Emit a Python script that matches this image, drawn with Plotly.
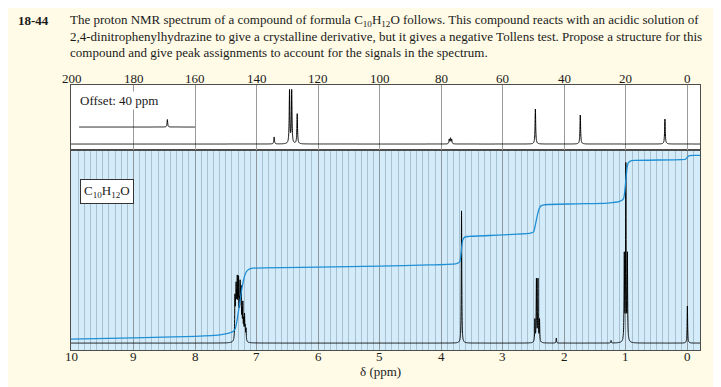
import numpy as np
import plotly.graph_objects as go

# ---------------- data ----------------
# 13C spectrum (top panel), ppm and peak heights (arbitrary units)
c13_shift = [134.3, 129.3, 128.6, 126.8, 77.4, 77.0, 76.6, 49.4, 34.8, 7.3]
c13_height = [7, 53, 53, 30, 4.5, 5.5, 4.5, 35, 29, 25]
# offset inset (carbonyl), true shift and height, offset 40 ppm
c13_offset_shift = [209.0]
c13_offset_height = [7.5]
c13_offset = 40
c13_offset_span = [237.7, 200.0]
c13_offset_level = 17

# 1H spectrum (bottom panel)
h_shift = [7.352, 7.342, 7.333, 7.323, 7.314, 7.303, 7.293, 7.28, 7.268, 7.258, 7.25,
           7.237, 7.224, 7.21, 7.196, 7.185, 7.172,
           3.67,
           2.478, 2.453, 2.428, 2.403,
           2.13, 1.24,
           1.025, 1.0, 0.975,
           0.0]
h_height = [40, 26, 44, 30, 50, 32, 52, 30, 48, 28, 42,
            24, 34, 18, 24, 12, 12,
            132,
            22, 62, 62, 22,
            5, 2.5,
            85, 175, 85,
            37]

# integral trace (ppm, level)
int_ppm = [10.02, 9.0, 8.0, 7.6, 7.45, 7.38, 7.35, 7.32, 7.28, 7.24, 7.20, 7.17, 7.13, 7.06,
           6.0, 5.0, 4.2, 3.75, 3.70, 3.68, 3.665, 3.65, 3.62, 3.55,
           3.0, 2.55, 2.50, 2.47, 2.44, 2.41, 2.38, 2.33,
           1.8, 1.3, 1.1, 1.04, 1.02, 1.00, 0.98, 0.96, 0.92, 0.85,
           0.1, 0.03, 0.0, -0.03, -0.1, -0.205]
int_val = [4.0, 5.3, 6.8, 8.2, 10.0, 11.5, 14, 22, 38, 54, 66, 71, 73.5, 74.8,
           75.8, 76.8, 78, 79.3, 81, 88, 97, 103, 105.8, 106.5,
           108, 109.8, 111, 118, 127, 134, 137, 138.1,
           139, 139.8, 141.5, 144, 150, 163, 175, 180, 182, 182.4,
           183.2, 183.6, 185.5, 187.1, 187.5, 187.5]

h_ticks = list(range(0, 11))
c13_ticks = list(range(0, 201, 20))

# ---------------- line shapes ----------------
def lorentz(x, centers, heights, hw):
    y = np.zeros_like(x)
    for c, h in zip(centers, heights):
        y += h / (1.0 + ((x - c) / hw) ** 2)
    return y

H_RANGE = [10.016, -0.205]
C_RANGE = [200.32, -4.1]

xh = np.arange(H_RANGE[1], H_RANGE[0], 0.001)
yh = lorentz(xh, h_shift, h_height, 0.0045)

xc = np.arange(C_RANGE[1], C_RANGE[0], 0.02)
yc = lorentz(xc, c13_shift, c13_height, 0.12)

xo_true = np.arange(c13_offset_span[1], c13_offset_span[0], 0.02)
yo = c13_offset_level + lorentz(xo_true, c13_offset_shift, c13_offset_height, 0.12)
xo = xo_true - c13_offset

# ---------------- figure ----------------
W, H = 721, 387
ML, MR, MT, MB = 63, 29, 77, 45
PW, PH = W - ML - MR, H - MT - MB
split = (H - MB - 142) / PH

def px(x):
    return (x - ML) / PW

def py(y):
    return (H - MB - y) / PH

SERIF = "Liberation Serif, Times New Roman, serif"
TXT = "#1a1a1a"

fig = go.Figure()
fig.add_trace(go.Scatter(x=xh, y=yh, mode="lines", line=dict(color="black", width=1, simplify=False),
                         xaxis="x", yaxis="y", hoverinfo="skip", showlegend=False))
fig.add_trace(go.Scatter(x=int_ppm, y=int_val, mode="lines",
                         line=dict(color="#1f8fd6", width=1.3, shape="spline", smoothing=0.6),
                         xaxis="x", yaxis="y", hoverinfo="skip", showlegend=False))
fig.add_trace(go.Scatter(x=xc, y=yc, mode="lines", line=dict(color="black", width=1, simplify=False),
                         xaxis="x2", yaxis="y2", hoverinfo="skip", showlegend=False))
fig.add_trace(go.Scatter(x=xo, y=yo, mode="lines", line=dict(color="black", width=1, simplify=False),
                         xaxis="x2", yaxis="y2", hoverinfo="skip", showlegend=False))

border = "#4d4d4d"
fig.update_layout(
    width=W, height=H,
    margin=dict(l=ML, r=MR, t=MT, b=MB),
    paper_bgcolor="#fffbe6",
    plot_bgcolor="white",
    showlegend=False,
    xaxis=dict(domain=[0, 1], anchor="y", range=H_RANGE, tickvals=h_ticks,
               showticklabels=False, ticks="", showgrid=True,
               gridcolor="#8f979d", gridwidth=1,
               minor=dict(dtick=0.1, tick0=0, showgrid=True, gridcolor="#a9c0d1", gridwidth=1),
               showline=True, mirror=True, linecolor=border, linewidth=1.2,
               zeroline=False),
    yaxis=dict(domain=[0, split], anchor="x", range=[-6.9, 192.8], showgrid=False,
               zeroline=False, showticklabels=False, ticks="",
               showline=True, mirror=True, linecolor=border, linewidth=1.2),
    xaxis2=dict(domain=[0, 1], anchor="y2", side="top", range=C_RANGE, tickvals=c13_ticks,
                showticklabels=False, ticks="", showgrid=True,
                gridcolor="#9a9a9a", gridwidth=1,
                showline=True, mirror=True, linecolor=border, linewidth=1.2,
                zeroline=False),
    yaxis2=dict(domain=[split, 1], anchor="x2", range=[-6, 59], showgrid=False,
                zeroline=False, showticklabels=False, ticks="",
                showline=True, mirror=True, linecolor=border, linewidth=1.2),
)

# blue background of the 1H panel
fig.add_shape(type="rect", xref="x domain", yref="y domain", x0=0, x1=1, y0=0, y1=1,
              fillcolor="#d4ecf9", line=dict(width=0), layer="below")

ann = []
# tick labels placed on the axes' own scales
for t in h_ticks:
    ann.append(dict(text=str(t), x=t, y=py(348), xref="x", yref="paper",
                    xanchor="center", yanchor="middle", showarrow=False,
                    font=dict(family=SERIF, size=13, color=TXT)))
for t in c13_ticks:
    ann.append(dict(text=str(t), x=t, y=py(70), xref="x2", yref="paper",
                    xanchor="center", yanchor="middle", showarrow=False,
                    font=dict(family=SERIF, size=13, color=TXT)))

ann.append(dict(text="<b>18-44</b>", x=px(8), y=py(12), xref="paper", yref="paper",
                xanchor="left", yanchor="middle", showarrow=False,
                font=dict(family=SERIF, size=13, color=TXT)))
lines = [
    "The proton NMR spectrum of a compound of formula C<sub>10</sub>H<sub>12</sub>O follows. This compound reacts with an acidic solution of",
    "2,4-dinitrophenylhydrazine to give a crystalline derivative, but it gives a negative Tollens test. Propose a structure for this",
    "compound and give peak assignments to account for the signals in the spectrum.",
]
for i, t in enumerate(lines):
    ann.append(dict(text=t, x=px(60), y=py(12 + 16 * i), xref="paper", yref="paper",
                    xanchor="left", yanchor="middle", showarrow=False,
                    font=dict(family=SERIF, size=13, color=TXT)))
ann.append(dict(text="Offset: 40 ppm", x=px(70), y=py(92), xref="paper", yref="paper",
                xanchor="left", yanchor="middle", showarrow=False, bgcolor="white",
                borderpad=1, font=dict(family=SERIF, size=13, color=TXT)))
ann.append(dict(text="C<sub>10</sub>H<sub>12</sub>O", x=px(99), y=py(183), xref="paper", yref="paper",
                xanchor="center", yanchor="middle", showarrow=False, bgcolor="white",
                bordercolor="#333333", borderwidth=1, borderpad=3,
                font=dict(family=SERIF, size=13, color=TXT)))
ann.append(dict(text="δ (ppm)", x=px(372), y=py(363), xref="paper", yref="paper",
                xanchor="center", yanchor="middle", showarrow=False,
                font=dict(family=SERIF, size=13, color=TXT)))
fig.update_layout(annotations=ann)

fig.write_html("out.html")
